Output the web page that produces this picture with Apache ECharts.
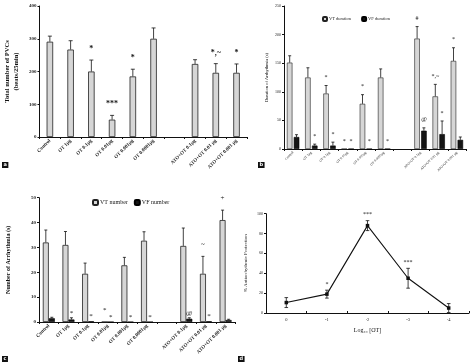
<!DOCTYPE html>
<html><head><meta charset="utf-8">
<script src="https://cdn.jsdelivr.net/npm/echarts@6/dist/echarts.min.js"></script>
<style>html,body{margin:0;padding:0;background:#fff}#c{width:474px;height:364px}</style>
</head><body><div id="c"></div>
<script>
// ---- Data ----
const groups = ['Control','OT 1µg','OT 0.1µg','OT 0.01µg','OT 0.001µg','OT 0.0001µg','','ATO+OT 0.1µg','ATO+OT 0.01 µg','ATO+OT 0.001 µg'];
// Panel a: total PVCs
const pvcMean = [291, 267, 200, 53, 185, 300, null, 223, 196, 196];
const pvcErr  = [17, 27, 35, 13, 22, 33, null, 13, 28, 27];
const pvcMark = ['', '', '*', '***', '*', '', '', '', '*,~', '*'];
// Panel b: duration of arrhythmia (s)
const vtDur     = [151, 125, 97, 0, 79, 125, null, 193, 92, 154];
const vtDurErr  = [12, 17, 14, 0, 16, 15, null, 21, 21, 23];
const vtDurMark = ['', '', '*', '*', '*', '', '', '#', '*,~', '*'];
const vfDur     = [21, 6, 6, 0, 0, 0, null, 32, 26, 16];
const vfDurErr  = [4, 2.5, 6, 0, 0, 0, null, 5, 23, 5];
const vfDurMark = ['', '*', '*', '*', '*', '*', '', '@', '*', ''];
// Panel c: number of arrhythmias
const vtNum     = [32, 31, 19.4, 0, 22.8, 32.7, null, 30.6, 19.4, 41];
const vtNumErr  = [5, 5.4, 4.3, 0, 3.2, 3.6, null, 7.2, 7, 4];
const vtNumMark = ['', '', '', '*', '', '', '', '', '~', '+'];
const vfNum     = [1.5, 1, 0.3, 0, 0, 0, null, 1.3, 0.3, 0.8];
const vfNumErr  = [0.4, 0.7, 0, 0, 0, 0, null, 0.4, 0, 0.3];
const vfNumMark = ['', '*', '*', '*', '*', '*', '', '@', '*', ''];
// Panel d: % antiarrhythmic protection
const logOT       = ['0', '-1', '-2', '-3', '-4'];
const protect     = [10.5, 19, 88, 35, 5];
const protectErr  = [5, 4, 5, 10, 4.5];
const protectMark = ['', '*', '***', '***', ''];

const SERIF = '"Liberation Serif","DejaVu Serif",serif';
const GREY = '#d6d6d6', DARK = '#151515';

function errSeries(xi, yi, means, errs, marks, dx, font, gap, capW, both) {
  const data = [];
  means.forEach((m, i) => { if (m != null) data.push([i, m, errs[i]]); });
  return {
    type: 'custom', xAxisIndex: xi, yAxisIndex: yi, z: 10, silent: true,
    data: data,
    renderItem: function (params, api) {
      const i = api.value(0), m = api.value(1), e = api.value(2);
      const p = api.coord([i, m]);
      const x = p[0] + dx;
      const top = api.coord([i, m + e])[1];
      const bot = both ? api.coord([i, m - e])[1] : p[1];
      const ch = [];
      const st = { stroke: '#111', lineWidth: 0.8 };
      if (e > 0) {
        ch.push({ type: 'line', shape: { x1: x, y1: bot, x2: x, y2: top }, style: st });
        ch.push({ type: 'line', shape: { x1: x - capW, y1: top, x2: x + capW, y2: top }, style: st });
        if (both) ch.push({ type: 'line', shape: { x1: x - capW, y1: bot, x2: x + capW, y2: bot }, style: st });
      }
      const mk = marks[i];
      if (mk) ch.push({ type: 'text', style: { text: mk, x: x, y: top - gap, textAlign: 'center', textVerticalAlign: 'middle', font: font, fill: '#111' } });
      return { type: 'group', children: ch };
    }
  };
}

function panelLabel(t, l, tp) {
  return { text: t, left: l, top: tp, padding: [0.5, 1.5], backgroundColor: '#111',
    textStyle: { color: '#fff', fontSize: 5, fontWeight: 'bold', fontFamily: 'DejaVu Sans' } };
}

const axisLineStyle = { show: true, lineStyle: { color: '#111', width: 1 } };
function catAxis(gi, bold, fs) {
  return { type: 'category', gridIndex: gi, data: groups,
    axisLine: axisLineStyle, axisTick: { show: true, length: 2, lineStyle: { color: '#111' } },
    axisLabel: { interval: 0, rotate: 45, fontSize: fs, fontWeight: bold ? 'bold' : 'normal', fontFamily: SERIF, color: '#222', margin: 3 } };
}
function valAxis(gi, max, iv, name, fs, nfs, gap, bold) {
  return { type: 'value', gridIndex: gi, min: 0, max: max, interval: iv,
    name: name, nameLocation: 'middle', nameGap: gap, nameRotate: 90,
    nameTextStyle: { fontSize: nfs, fontWeight: bold ? 'bold' : 'normal', fontFamily: SERIF, color: '#111', lineHeight: nfs + 2 },
    axisLine: axisLineStyle, axisTick: { show: true, length: 2, lineStyle: { color: '#111' } },
    splitLine: { show: false },
    axisLabel: { fontSize: fs, fontFamily: SERIF, fontWeight: bold ? 'bold' : 'normal', color: '#222', margin: 3 } };
}

const chart = echarts.init(document.getElementById('c'), null, { renderer: 'canvas' });
chart.setOption({
  animation: false,
  backgroundColor: '#fff',
  textStyle: { fontFamily: SERIF },
  title: [panelLabel('a', 2, 162), panelLabel('b', 258, 162), panelLabel('c', 2, 356), panelLabel('d', 238, 356)],
  legend: [
    { data: ['VT duration', 'VF duration'], left: 322, top: 16, padding: 0, itemWidth: 4, itemHeight: 4, itemGap: 10,
      textStyle: { fontSize: 4.5, fontFamily: SERIF, color: '#222', padding: [0, 0, 0, -3] } },
    { data: ['VT number', 'VF number'], left: 92, top: 199, padding: 0, itemWidth: 5, itemHeight: 5, itemGap: 6,
      textStyle: { fontSize: 6, fontFamily: SERIF, color: '#222', padding: [0, 0, 0, -3] } }
  ],
  grid: [
    { left: 39.5, top: 6, width: 207.4, height: 131 },
    { left: 284, top: 6, width: 182, height: 143 },
    { left: 39, top: 197.7, width: 196.4, height: 124.3 },
    { left: 266, top: 213.7, width: 203, height: 99.3 }
  ],
  xAxis: [
    catAxis(0, true, 5),
    catAxis(1, false, 3.5),
    catAxis(2, true, 5),
    { type: 'category', gridIndex: 3, data: logOT, name: 'Log\u2081\u2080 [OT]', nameLocation: 'middle', nameGap: 14,
      nameTextStyle: { fontSize: 6, fontFamily: SERIF, color: '#111' },
      axisLine: axisLineStyle, axisTick: { show: true, length: 2, inside: true, lineStyle: { color: '#111' } },
      axisLabel: { fontSize: 4.5, fontFamily: SERIF, color: '#222', margin: 4 } }
  ],
  yAxis: [
    valAxis(0, 400, 100, 'Total number of PVCs\n(beats/25min)', 5, 6.5, 19, true),
    valAxis(1, 250, 50, 'Duration of Arrhythmia (s)', 4, 4.5, 14, false),
    valAxis(2, 50, 10, 'Number of Arrhythmia (s)', 5, 6, 27, true),
    valAxis(3, 100, 20, '% Antiarrhythmic Protection', 4, 5, 17, false)
  ],
  series: [
    { type: 'bar', name: 'PVC', xAxisIndex: 0, yAxisIndex: 0, data: pvcMean, barWidth: 6.5,
      itemStyle: { color: GREY, borderColor: '#222', borderWidth: 0.8 } },
    errSeries(0, 0, pvcMean, pvcErr, pvcMark, 0, 'bold 8px ' + SERIF, 11, 2, false),

    { type: 'bar', name: 'VT duration', xAxisIndex: 1, yAxisIndex: 1, data: vtDur, barWidth: 5.5, barGap: '25%',
      itemStyle: { color: GREY, borderColor: '#222', borderWidth: 0.6 } },
    { type: 'bar', name: 'VF duration', xAxisIndex: 1, yAxisIndex: 1, data: vfDur, barWidth: 5.5, barGap: '25%',
      itemStyle: { color: DARK, borderColor: '#000', borderWidth: 0.6 } },
    errSeries(1, 1, vtDur, vtDurErr, vtDurMark, -3.4, '6px ' + SERIF, 8, 1.5, false),
    errSeries(1, 1, vfDur, vfDurErr, vfDurMark, 3.4, '6px ' + SERIF, 8, 1.5, false),

    { type: 'bar', name: 'VT number', xAxisIndex: 2, yAxisIndex: 2, data: vtNum, barWidth: 6, barGap: '0%',
      itemStyle: { color: GREY, borderColor: '#222', borderWidth: 0.8 } },
    { type: 'bar', name: 'VF number', xAxisIndex: 2, yAxisIndex: 2, data: vfNum, barWidth: 6, barGap: '0%',
      itemStyle: { color: DARK, borderColor: '#000', borderWidth: 0.6 } },
    errSeries(2, 2, vtNum, vtNumErr, vtNumMark, -3, '7px ' + SERIF, 12, 1.5, false),
    errSeries(2, 2, vfNum, vfNumErr, vfNumMark, 3, '7px ' + SERIF, 5, 1.5, false),

    { type: 'line', name: 'Protection', xAxisIndex: 3, yAxisIndex: 3, data: protect,
      symbol: 'rect', symbolSize: 3.5, lineStyle: { color: '#111', width: 1.1 }, itemStyle: { color: '#111' } },
    errSeries(3, 3, protect, protectErr, protectMark, 0, '6px ' + SERIF, 6, 1.8, true)
  ]
});
</script></body></html>
